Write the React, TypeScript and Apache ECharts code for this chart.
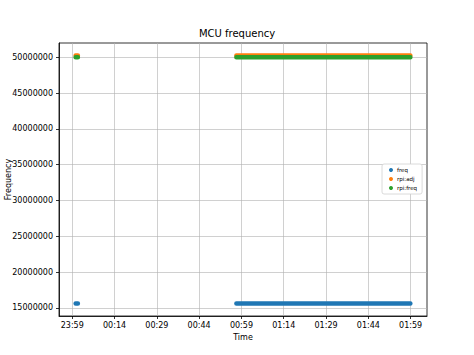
import React, { useEffect, useRef } from "react";
import * as echarts from "echarts";

// x values: minutes since 00:00 of the first day (23:59 = 1439)
const xTicks = [1439, 1454, 1469, 1484, 1499, 1514, 1529, 1544, 1559];
const yTicks = [15000000, 20000000, 25000000, 30000000, 35000000, 40000000, 45000000, 50000000];
const segmentStarts = [1440.2, 1497.2];
const segmentEnds = [1441.0, 1558.9];
const seriesNames = ["freq", "rpi:adj", "rpi:freq"];
const seriesValues = [15600000, 50250000, 50000000];
const seriesColors = ["#1f77b4", "#ff7f0e", "#2ca02c"];

const FONT = "DejaVu Sans";

function fmtTime(v: number) {
  const m = Math.round(v) % 1440;
  const h = Math.floor(m / 60);
  const mm = m % 60;
  return String(h).padStart(2, "0") + ":" + String(mm).padStart(2, "0");
}

function buildData(v: number) {
  const out: any[] = [];
  segmentStarts.forEach((s, i) => {
    if (i > 0) out.push([segmentEnds[i - 1], "-"]);
    out.push([s, v]);
    out.push([segmentEnds[i], v]);
  });
  return out;
}

export default function App() {
  const ref = useRef<HTMLDivElement>(null);
  useEffect(() => {
    const chart = echarts.init(ref.current!, null, { renderer: "svg" });
    chart.setOption({
      animation: false,
      backgroundColor: "#fff",
      textStyle: { fontFamily: FONT },
      title: {
        text: "MCU frequency",
        left: "center",
        top: 28,
        padding: 0,
        textStyle: { fontFamily: FONT, fontSize: 10, fontWeight: "normal", color: "#000" },
      },
      legend: {
        orient: "vertical",
        left: 382,
        top: 164,
        padding: [3, 5, 3, 7],
        itemGap: 3,
        itemWidth: 4,
        itemHeight: 4,
        icon: "circle",
        borderColor: "#d0d0d0",
        borderWidth: 0.8,
        borderRadius: 2,
        backgroundColor: "#fff",
        textStyle: { fontFamily: FONT, fontSize: 5.5, color: "#000", lineHeight: 6, padding: [0, 0, 0, -1] },
        data: seriesNames.map((n) => ({ name: n })),
      },
      grid: {
        left: 59,
        right: 47,
        top: 43,
        bottom: 39,
        show: true,
        borderColor: "#000",
        borderWidth: 0.8,
        containLabel: false,
        outerBoundsMode: "none",
      },
      xAxis: {
        type: "value",
        min: 1434.3,
        max: 1564.8,
        name: "Time",
        nameLocation: "middle",
        nameGap: 17,
        nameMoveOverlap: false,
        nameTextStyle: { fontFamily: FONT, fontSize: 8, color: "#000" },
        axisLine: { show: true, lineStyle: { color: "#000", width: 0.8 } },
        axisTick: { show: true, inside: false, length: 3, customValues: xTicks, lineStyle: { color: "#000", width: 0.8 } },
        axisLabel: {
          customValues: xTicks,
          margin: 5,
          fontFamily: FONT,
          fontSize: 8,
          color: "#000",
          formatter: (v: number) => fmtTime(v),
        },
        splitLine: { show: true, lineStyle: { color: "#b0b0b0", width: 0.6 } },
      },
      yAxis: {
        type: "value",
        min: 13870000,
        max: 51980000,
        name: "Frequency",
        nameLocation: "middle",
        nameGap: 47,
        nameMoveOverlap: false,
        nameTextStyle: { fontFamily: FONT, fontSize: 8, color: "#000" },
        axisLine: { show: true, lineStyle: { color: "#000", width: 0.8 } },
        axisTick: { show: true, inside: false, length: 3, customValues: yTicks, lineStyle: { color: "#000", width: 0.8 } },
        axisLabel: {
          customValues: yTicks,
          margin: 6,
          fontFamily: FONT,
          fontSize: 8,
          color: "#000",
          formatter: (v: number) => String(Math.round(v)),
        },
        splitLine: { show: true, lineStyle: { color: "#b0b0b0", width: 0.6 } },
      },
      series: seriesNames.map((n, i) => ({
        name: n,
        type: "line",
        data: buildData(seriesValues[i]),
        showSymbol: false,
        symbol: "circle",
        connectNulls: false,
        color: seriesColors[i],
        itemStyle: { color: seriesColors[i] },
        lineStyle: { color: seriesColors[i], width: 4.5, cap: "round" },
        z: 2 + i,
      })),
    });
    return () => chart.dispose();
  }, []);
  return (
    <div
      ref={ref}
      style={{ position: "fixed", left: 0, top: 0, width: 474, height: 355 }}
    />
  );
}
